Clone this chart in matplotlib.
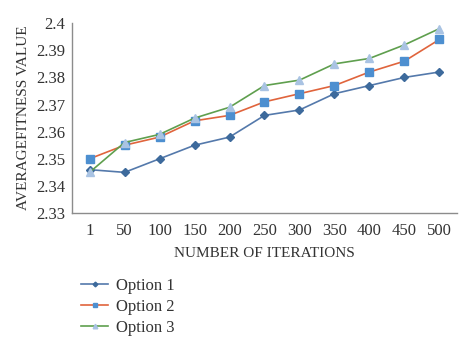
import matplotlib.pyplot as plt
import numpy as np

plt.rcParams["font.family"] = ["Liberation Serif", "DejaVu Serif"]

iterations = ["1", "50", "100", "150", "200", "250", "300", "350", "400", "450", "500"]
option1 = [2.346, 2.345, 2.350, 2.355, 2.358, 2.366, 2.368, 2.374, 2.377, 2.380, 2.382]
option2 = [2.350, 2.355, 2.358, 2.364, 2.366, 2.371, 2.374, 2.377, 2.382, 2.386, 2.394]
option3 = [2.345, 2.356, 2.359, 2.365, 2.369, 2.377, 2.379, 2.385, 2.387, 2.392, 2.398]
y_ticks = [2.33, 2.34, 2.35, 2.36, 2.37, 2.38, 2.39, 2.4]

fig = plt.figure(figsize=(4.74, 3.51), dpi=100)
ax = fig.add_axes([0.152, 0.393, 0.812, 0.541])

x = np.arange(len(iterations))
ax.plot(x, option1, color="#5479ab", lw=1.2, marker="D", ms=4,
        mfc="#3d6a9c", mec="#3d6a9c", label="Option 1")
ax.plot(x, option2, color="#e0643c", lw=1.2, marker="s", ms=5.5,
        mfc="#4d8fd0", mec="#4d8fd0", label="Option 2")
ax.plot(x, option3, color="#5f9f4e", lw=1.2, marker="^", ms=5.5,
        mfc="#a9c3e3", mec="#a9c3e3", label="Option 3")

ax.set_xlim(-0.5, len(iterations) - 0.5)
ax.set_ylim(2.33, 2.4)
ax.set_xticks(x)
ax.set_xticklabels(iterations)
ax.set_yticks(y_ticks)
ax.set_yticklabels([f"{v:g}" for v in y_ticks])
ax.tick_params(axis="y", length=0, labelsize=12, colors="#333333", pad=5)
ax.tick_params(axis="x", length=0, labelsize=12, colors="#333333", pad=7)

for side in ["top", "right"]:
    ax.spines[side].set_visible(False)
for side in ["left", "bottom"]:
    ax.spines[side].set_color("#8c8c8c")
    ax.spines[side].set_linewidth(1.0)

ax.set_xlabel("NUMBER OF ITERATIONS", fontsize=11, color="#333333", labelpad=6)
ax.set_ylabel("AVERAGEFITNESS VALUE", fontsize=11, color="#333333", labelpad=4)

fig.legend(loc="upper left", bbox_to_anchor=(0.14, 0.25), frameon=False,
           fontsize=12, handlelength=1.6, handletextpad=0.5, labelspacing=0.3,
           markerscale=0.6, labelcolor="#333333")

fig.savefig("out.png", dpi=100)
